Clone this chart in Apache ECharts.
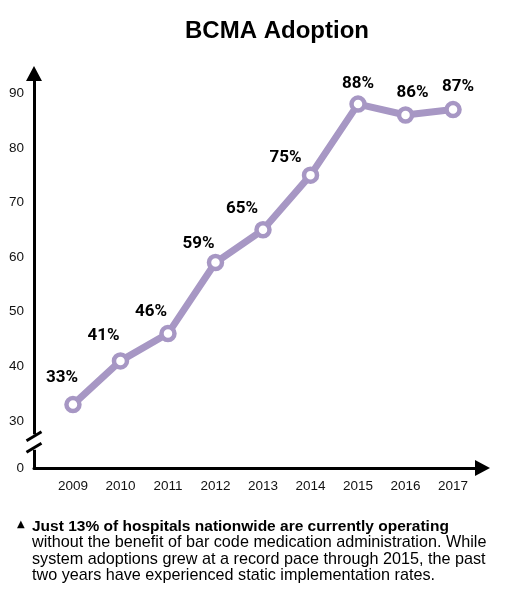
<!DOCTYPE html>
<html>
<head>
<meta charset="utf-8">
<script src="https://cdn.jsdelivr.net/npm/echarts@6/dist/echarts.min.js"></script>
<style>
html,body{margin:0;padding:0;background:#fff;}
#chart{width:515px;height:600px;}
</style>
</head>
<body>
<div id="chart"></div>
<script>
// ---- data ----
const years = [2009, 2010, 2011, 2012, 2013, 2014, 2015, 2016, 2017];
const adoption = [33, 41, 46, 59, 65, 75, 88, 86, 87];
const yTickValues = [30, 40, 50, 60, 70, 80, 90];
const yBreakLabel = '0';
const titleText = 'BCMA Adoption';
const noteLines = [
  'Just 13% of hospitals nationwide are currently operating',
  'without the benefit of bar code medication administration. While',
  'system adoptions grew at a record pace through 2015, the past',
  'two years have experienced static implementation rates.'
];

// ---- layout / style ----
const PURPLE = '#a797c4';
const yMin = 21.4, yMax = 93.6;
const xMin = 2008.18, xMax = 2017.62;
const labelOffsets = [[-11,-27],[-17,-25],[-17,-22],[-17,-19],[-21,-21],[-25,-17],[0,-20],[7,-22],[5,-23]];
const FONT = "'Liberation Sans', Arial, Helvetica, sans-serif";
const LABEL_FONT = "Roboto, 'Liberation Sans', sans-serif";

const chart = echarts.init(document.getElementById('chart'), null, {renderer: 'canvas'});

const option = {
  backgroundColor: '#fff',
  animation: false,
  title: {
    text: titleText,
    left: 272, top: 14,
    textAlign: 'center',
    textStyle: {fontFamily: FONT, fontWeight: 'bold', fontSize: 24, color: '#000'}
  },
  grid: {left: 34, right: 32.5, top: 73.5, bottom: 132, containLabel: false},
  xAxis: {
    type: 'value', min: xMin, max: xMax,
    axisLine: {onZero: false, lineStyle: {color: '#000', width: 3}, symbol: ['none', 'triangle'], symbolSize: [16, 15]},
    axisTick: {show: false},
    splitLine: {show: false},
    axisLabel: {customValues: years, formatter: v => String(v), margin: 11,
      fontFamily: FONT, fontSize: 13.5, color: '#111'}
  },
  yAxis: {
    type: 'value', min: yMin, max: yMax,
    axisLine: {onZero: false, lineStyle: {color: '#000', width: 3}, symbol: ['none', 'triangle'], symbolSize: [16, 15]},
    axisTick: {show: false},
    splitLine: {show: false},
    axisLabel: {customValues: [yMin].concat(yTickValues),
      formatter: v => (v < yTickValues[0] ? yBreakLabel : String(v)), margin: 10,
      fontFamily: FONT, fontSize: 13.5, color: '#111'}
  },
  series: [{
    type: 'line',
    data: years.map((y, i) => ({value: [y, adoption[i]], label: {offset: labelOffsets[i]}})),
    lineStyle: {color: PURPLE, width: 7},
    symbol: 'circle', symbolSize: 13,
    itemStyle: {color: '#fff', borderColor: PURPLE, borderWidth: 4.5},
    label: {show: true, position: 'inside', formatter: p => p.value[1] + '%',
      fontFamily: LABEL_FONT, fontWeight: 'bold', fontSize: 17, color: '#000'},
    z: 3
  }]
};
chart.setOption(option);

// axis break marks + footnote
function drawExtras() {
  const axisX = chart.convertToPixel({gridIndex: 0}, [xMin, 0])[0];
  const up = chart.convertToPixel({gridIndex: 0}, [xMin, 27.2])[1];
  const lo = chart.convertToPixel({gridIndex: 0}, [xMin, 25.1])[1];
  chart.setOption({
    graphic: [
      {type: 'rect', shape: {x: axisX - 4, y: up - 2, width: 8, height: lo - up + 4}, style: {fill: '#fff'}, z: 10},
      {type: 'line', shape: {x1: axisX - 7.5, y1: up + 4.5, x2: axisX + 7.5, y2: up - 4.5}, style: {stroke: '#000', lineWidth: 3}, z: 11},
      {type: 'line', shape: {x1: axisX - 7.5, y1: lo + 4.5, x2: axisX + 7.5, y2: lo - 4.5}, style: {stroke: '#000', lineWidth: 3}, z: 11},
      {type: 'text', left: 17, top: 519, style: {text: '▲', fontSize: 10, fill: '#000', fontFamily: "'DejaVu Sans', sans-serif"}, z: 11},
      {type: 'text', left: 32, top: 518.5, z: 11,
        style: {
          text: '{b|' + noteLines[0] + '}\n{r|' + noteLines.slice(1).join('}\n{r|') + '}',
          fill: '#000',
          rich: {
            b: {fontFamily: FONT, fontWeight: 'bold', fontSize: 15.5, lineHeight: 16.5, fill: '#000'},
            r: {fontFamily: FONT, fontSize: 16.2, lineHeight: 16.5, fill: '#000'}
          }
        }}
    ]
  });
}
drawExtras();
</script>
</body>
</html>
